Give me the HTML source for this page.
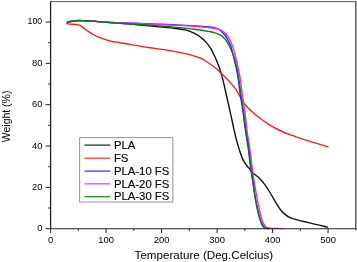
<!DOCTYPE html>
<html><head><meta charset="utf-8"><title>TGA</title>
<style>html,body{margin:0;padding:0;background:#fff}svg{display:block}text{font-family:"Liberation Sans",Arial,sans-serif;fill:#000}</style></head><body>
<svg width="357" height="262" viewBox="0 0 357 262">
<rect width="357" height="262" fill="#fff"/>
<path d="M66.90,22.60C67.25,22.48 68.15,22.12 69.00,21.90C69.85,21.67 70.40,21.48 72.00,21.25C73.60,21.02 76.32,20.57 78.60,20.50C80.88,20.43 82.85,20.65 85.70,20.80C88.55,20.95 91.48,21.10 95.70,21.40C99.92,21.70 104.45,22.08 111.00,22.60C117.55,23.12 126.50,23.75 135.00,24.50C143.50,25.25 155.17,26.43 162.00,27.10C168.83,27.77 172.17,28.03 176.00,28.50C179.83,28.97 182.57,29.38 185.00,29.90C187.43,30.42 188.48,30.72 190.60,31.60C192.72,32.48 195.97,34.20 197.70,35.20C199.43,36.20 199.73,36.57 201.00,37.60C202.27,38.63 203.75,39.70 205.30,41.40C206.85,43.10 208.68,45.20 210.30,47.80C211.92,50.40 213.62,54.03 215.00,57.00C216.38,59.97 217.53,62.75 218.60,65.60C219.67,68.45 220.57,71.25 221.40,74.10C222.23,76.95 222.82,79.38 223.60,82.70C224.38,86.02 225.03,89.27 226.10,94.00C227.17,98.73 228.63,104.93 230.00,111.10C231.37,117.27 233.23,126.25 234.30,131.00C235.37,135.75 235.57,136.50 236.40,139.60C237.23,142.70 238.22,146.27 239.30,149.60C240.38,152.93 241.60,156.87 242.90,159.60C244.20,162.33 246.03,164.52 247.10,166.00C248.17,167.48 248.33,167.33 249.30,168.50C250.27,169.67 251.35,171.50 252.90,173.00C254.45,174.50 256.70,175.68 258.60,177.50C260.50,179.32 262.35,181.32 264.30,183.90C266.25,186.48 268.55,190.18 270.30,193.00C272.05,195.82 273.48,198.58 274.80,200.80C276.12,203.02 277.12,204.63 278.20,206.30C279.28,207.97 280.12,209.42 281.30,210.80C282.48,212.18 283.92,213.50 285.30,214.60C286.68,215.70 287.93,216.60 289.60,217.40C291.27,218.20 293.17,218.77 295.30,219.40C297.43,220.03 300.02,220.62 302.40,221.20C304.78,221.78 307.22,222.33 309.60,222.90C311.98,223.47 314.32,224.05 316.70,224.60C319.08,225.15 321.98,225.77 323.90,226.20C325.82,226.63 327.48,227.03 328.20,227.20" fill="none" stroke="#111" stroke-width="1.40" stroke-linejoin="round" stroke-linecap="butt"/>
<path d="M66.90,22.50C66.93,22.70 66.47,23.42 67.10,23.70C67.73,23.98 69.27,24.07 70.70,24.20C72.13,24.33 74.15,24.30 75.70,24.50C77.25,24.70 78.57,24.73 80.00,25.40C81.43,26.07 82.87,27.47 84.30,28.50C85.73,29.53 86.93,30.52 88.60,31.60C90.27,32.68 92.40,34.00 94.30,35.00C96.20,36.00 98.10,36.82 100.00,37.60C101.90,38.38 103.87,39.10 105.70,39.70C107.53,40.30 108.62,40.70 111.00,41.20C113.38,41.70 116.83,42.17 120.00,42.70C123.17,43.23 126.67,43.83 130.00,44.40C133.33,44.97 136.65,45.55 140.00,46.10C143.35,46.65 146.73,47.20 150.10,47.70C153.47,48.20 156.83,48.60 160.20,49.10C163.57,49.60 166.95,50.13 170.30,50.70C173.65,51.27 176.95,51.82 180.30,52.50C183.65,53.18 187.03,53.85 190.40,54.80C193.77,55.75 197.72,57.00 200.50,58.20C203.28,59.40 204.80,60.53 207.10,62.00C209.40,63.47 211.92,65.10 214.30,67.00C216.68,68.90 219.02,71.13 221.40,73.40C223.78,75.67 226.22,77.98 228.60,80.60C230.98,83.22 234.03,86.87 235.70,89.10C237.37,91.33 237.28,91.75 238.60,94.00C239.92,96.25 241.58,99.83 243.60,102.60C245.62,105.37 247.97,107.98 250.70,110.60C253.43,113.22 256.78,115.88 260.00,118.30C263.22,120.72 266.67,123.07 270.00,125.10C273.33,127.13 276.67,128.90 280.00,130.50C283.33,132.10 286.67,133.42 290.00,134.70C293.33,135.98 296.67,137.08 300.00,138.20C303.33,139.32 306.67,140.37 310.00,141.40C313.33,142.43 316.93,143.48 320.00,144.40C323.07,145.32 327.00,146.48 328.40,146.90" fill="none" stroke="#ff1a1a" stroke-width="1.40" stroke-linejoin="round" stroke-linecap="butt"/>
<path d="M66.90,22.60C67.25,22.48 68.15,22.12 69.00,21.90C69.85,21.67 70.40,21.47 72.00,21.25C73.60,21.03 76.32,20.68 78.60,20.60C80.88,20.53 82.85,20.67 85.70,20.80C88.55,20.93 91.48,21.12 95.70,21.40C99.92,21.68 104.45,22.18 111.00,22.50C117.55,22.82 126.50,23.00 135.00,23.30C143.50,23.60 152.83,23.92 162.00,24.30C171.17,24.68 183.67,25.28 190.00,25.60C196.33,25.92 196.17,25.90 200.00,26.20C203.83,26.50 209.83,26.85 213.00,27.40C216.17,27.95 217.12,28.35 219.00,29.50C220.88,30.65 222.82,32.55 224.30,34.30C225.78,36.05 226.83,38.05 227.90,40.00C228.97,41.95 229.75,43.17 230.70,46.00C231.65,48.83 232.65,53.27 233.60,57.00C234.55,60.73 235.60,64.58 236.40,68.40C237.20,72.22 237.77,75.63 238.40,79.90C239.03,84.17 239.42,88.55 240.20,94.00C240.98,99.45 242.22,106.43 243.10,112.60C243.98,118.77 244.62,124.83 245.50,131.00C246.38,137.17 247.53,143.43 248.40,149.60C249.27,155.77 249.85,161.83 250.70,168.00C251.55,174.17 252.83,182.10 253.50,186.60C254.17,191.10 254.18,191.85 254.70,195.00C255.22,198.15 255.80,201.68 256.60,205.50C257.40,209.32 258.67,214.88 259.50,217.90C260.33,220.92 260.88,222.05 261.60,223.60C262.32,225.15 263.08,226.42 263.80,227.20C264.52,227.98 265.55,228.12 265.90,228.30" fill="none" stroke="#2222ff" stroke-width="1.40" stroke-linejoin="round" stroke-linecap="butt"/>
<path d="M66.90,22.60C67.25,22.48 68.15,22.12 69.00,21.90C69.85,21.67 70.40,21.47 72.00,21.25C73.60,21.03 76.32,20.68 78.60,20.60C80.88,20.53 82.85,20.67 85.70,20.80C88.55,20.93 91.48,21.12 95.70,21.40C99.92,21.68 104.45,22.15 111.00,22.50C117.55,22.85 126.50,23.13 135.00,23.50C143.50,23.87 151.17,24.17 162.00,24.70C172.83,25.23 191.28,26.10 200.00,26.70C208.72,27.30 210.73,27.70 214.30,28.30C217.87,28.90 219.38,29.30 221.40,30.30C223.42,31.30 224.97,32.68 226.40,34.30C227.83,35.92 228.92,37.87 230.00,40.00C231.08,42.13 231.95,44.27 232.90,47.10C233.85,49.93 234.80,53.45 235.70,57.00C236.60,60.55 237.52,64.58 238.30,68.40C239.08,72.22 239.73,75.63 240.40,79.90C241.07,84.17 241.53,88.55 242.30,94.00C243.07,99.45 244.20,106.43 245.00,112.60C245.80,118.77 246.27,124.83 247.10,131.00C247.93,137.17 249.13,143.43 250.00,149.60C250.87,155.77 251.47,161.83 252.30,168.00C253.13,174.17 254.30,182.10 255.00,186.60C255.70,191.10 255.92,191.85 256.50,195.00C257.08,198.15 257.68,201.68 258.50,205.50C259.32,209.32 260.55,214.88 261.40,217.90C262.25,220.92 262.88,222.12 263.60,223.60C264.32,225.08 264.87,226.07 265.70,226.80C266.53,227.53 267.05,227.73 268.60,228.00C270.15,228.27 272.43,228.30 275.00,228.40C277.57,228.50 282.50,228.57 284.00,228.60" fill="none" stroke="#ff22ff" stroke-width="1.40" stroke-linejoin="round" stroke-linecap="butt"/>
<path d="M66.90,22.60C67.25,22.48 68.15,22.12 69.00,21.90C69.85,21.67 70.40,21.48 72.00,21.25C73.60,21.02 76.32,20.57 78.60,20.50C80.88,20.43 82.85,20.65 85.70,20.80C88.55,20.95 91.48,21.10 95.70,21.40C99.92,21.70 104.45,22.13 111.00,22.60C117.55,23.07 126.50,23.62 135.00,24.20C143.50,24.78 154.50,25.53 162.00,26.10C169.50,26.67 173.67,26.95 180.00,27.60C186.33,28.25 194.28,29.17 200.00,30.00C205.72,30.83 210.73,31.65 214.30,32.60C217.87,33.55 219.50,34.47 221.40,35.70C223.30,36.93 224.38,38.33 225.70,40.00C227.02,41.67 228.23,43.68 229.30,45.70C230.37,47.72 231.32,50.22 232.10,52.10C232.88,53.98 233.20,54.28 234.00,57.00C234.80,59.72 236.08,64.58 236.90,68.40C237.72,72.22 238.25,75.63 238.90,79.90C239.55,84.17 240.02,88.55 240.80,94.00C241.58,99.45 242.73,106.43 243.60,112.60C244.47,118.77 245.12,124.83 246.00,131.00C246.88,137.17 248.07,143.43 248.90,149.60C249.73,155.77 250.18,161.83 251.00,168.00C251.82,174.17 253.15,182.10 253.80,186.60C254.45,191.10 254.40,191.85 254.90,195.00C255.40,198.15 256.00,201.68 256.80,205.50C257.60,209.32 258.87,214.88 259.70,217.90C260.53,220.92 261.08,222.05 261.80,223.60C262.52,225.15 263.28,226.42 264.00,227.20C264.72,227.98 265.10,228.07 266.10,228.30C267.10,228.53 269.35,228.55 270.00,228.60" fill="none" stroke="#0a7a0a" stroke-width="1.40" stroke-linejoin="round" stroke-linecap="butt"/>
<g stroke="#222" fill="none">
<line x1="50.60" y1="1.13" x2="50.60" y2="229.20" stroke-width="1.3"/>
<line x1="50.60" y1="228.70" x2="356.45" y2="228.70" stroke-width="1.1"/>
<line x1="50.60" y1="1.63" x2="356.45" y2="1.63" stroke-width="0.9" stroke="#444"/>
<line x1="355.85" y1="1.63" x2="355.85" y2="230.30" stroke-width="1.2" stroke="#333"/>
<line x1="45.60" y1="228.70" x2="50.60" y2="228.70" stroke-width="1"/>
<line x1="48.20" y1="208.03" x2="50.60" y2="208.03" stroke-width="1"/>
<line x1="45.60" y1="187.36" x2="50.60" y2="187.36" stroke-width="1"/>
<line x1="48.20" y1="166.69" x2="50.60" y2="166.69" stroke-width="1"/>
<line x1="45.60" y1="146.02" x2="50.60" y2="146.02" stroke-width="1"/>
<line x1="48.20" y1="125.35" x2="50.60" y2="125.35" stroke-width="1"/>
<line x1="45.60" y1="104.68" x2="50.60" y2="104.68" stroke-width="1"/>
<line x1="48.20" y1="84.01" x2="50.60" y2="84.01" stroke-width="1"/>
<line x1="45.60" y1="63.34" x2="50.60" y2="63.34" stroke-width="1"/>
<line x1="48.20" y1="42.67" x2="50.60" y2="42.67" stroke-width="1"/>
<line x1="45.60" y1="22.00" x2="50.60" y2="22.00" stroke-width="1"/>
<line x1="50.60" y1="228.70" x2="50.60" y2="233.00" stroke-width="1"/>
<line x1="78.35" y1="228.70" x2="78.35" y2="230.90" stroke-width="1"/>
<line x1="106.10" y1="228.70" x2="106.10" y2="233.00" stroke-width="1"/>
<line x1="133.85" y1="228.70" x2="133.85" y2="230.90" stroke-width="1"/>
<line x1="161.60" y1="228.70" x2="161.60" y2="233.00" stroke-width="1"/>
<line x1="189.35" y1="228.70" x2="189.35" y2="230.90" stroke-width="1"/>
<line x1="217.10" y1="228.70" x2="217.10" y2="233.00" stroke-width="1"/>
<line x1="244.85" y1="228.70" x2="244.85" y2="230.90" stroke-width="1"/>
<line x1="272.60" y1="228.70" x2="272.60" y2="233.00" stroke-width="1"/>
<line x1="300.35" y1="228.70" x2="300.35" y2="230.90" stroke-width="1"/>
<line x1="328.10" y1="228.70" x2="328.10" y2="233.00" stroke-width="1"/>
</g>
<text transform="translate(42.60,231.20) scale(1.075,1)" font-size="8.8" text-anchor="end">0</text>
<text transform="translate(42.60,189.86) scale(1.075,1)" font-size="8.8" text-anchor="end">20</text>
<text transform="translate(42.60,148.52) scale(1.075,1)" font-size="8.8" text-anchor="end">40</text>
<text transform="translate(42.60,107.18) scale(1.075,1)" font-size="8.8" text-anchor="end">60</text>
<text transform="translate(42.60,65.84) scale(1.075,1)" font-size="8.8" text-anchor="end">80</text>
<text transform="translate(42.20,23.90) scale(1.000,1)" font-size="8.8" text-anchor="end">100</text>
<text transform="translate(50.60,242.7) scale(1.075,1)" font-size="8.8" text-anchor="middle">0</text>
<text transform="translate(106.10,242.7) scale(1.075,1)" font-size="8.8" text-anchor="middle">100</text>
<text transform="translate(161.60,242.7) scale(1.075,1)" font-size="8.8" text-anchor="middle">200</text>
<text transform="translate(217.10,242.7) scale(1.075,1)" font-size="8.8" text-anchor="middle">300</text>
<text transform="translate(272.60,242.7) scale(1.075,1)" font-size="8.8" text-anchor="middle">400</text>
<text transform="translate(328.10,242.7) scale(1.075,1)" font-size="8.8" text-anchor="middle">500</text>
<text x="134.6" y="259.1" font-size="10.4" textLength="138.6" lengthAdjust="spacingAndGlyphs">Temperature (Deg.Celcius)</text>
<text transform="translate(9.9,142.2) scale(1.075,1) rotate(-90)" font-size="10.4" textLength="51.6" lengthAdjust="spacingAndGlyphs">Weight (%)</text>
<rect x="79.7" y="137.7" width="93.2" height="64.3" fill="#fff" stroke="#777" stroke-width="0.8"/>
<line x1="84.5" y1="145.10" x2="110.3" y2="145.10" stroke="#333" stroke-width="1.3"/>
<text transform="translate(113.9,148.85) scale(1.070,1)" font-size="10.6" stroke="#000" stroke-width="0.12">PLA</text>
<line x1="84.5" y1="158.20" x2="110.3" y2="158.20" stroke="#ff3c3c" stroke-width="1.3"/>
<text transform="translate(113.9,161.95) scale(1.070,1)" font-size="10.6" stroke="#000" stroke-width="0.12">FS</text>
<line x1="84.5" y1="171.10" x2="110.3" y2="171.10" stroke="#3c3cff" stroke-width="1.3"/>
<text transform="translate(113.9,174.85) scale(1.070,1)" font-size="10.6" stroke="#000" stroke-width="0.12">PLA-10 FS</text>
<line x1="84.5" y1="183.80" x2="110.3" y2="183.80" stroke="#ff3cff" stroke-width="1.3"/>
<text transform="translate(113.9,187.55) scale(1.070,1)" font-size="10.6" stroke="#000" stroke-width="0.12">PLA-20 FS</text>
<line x1="84.5" y1="196.70" x2="110.3" y2="196.70" stroke="#2a8a2a" stroke-width="1.3"/>
<text transform="translate(113.9,200.45) scale(1.070,1)" font-size="10.6" stroke="#000" stroke-width="0.12">PLA-30 FS</text>
</svg></body></html>
